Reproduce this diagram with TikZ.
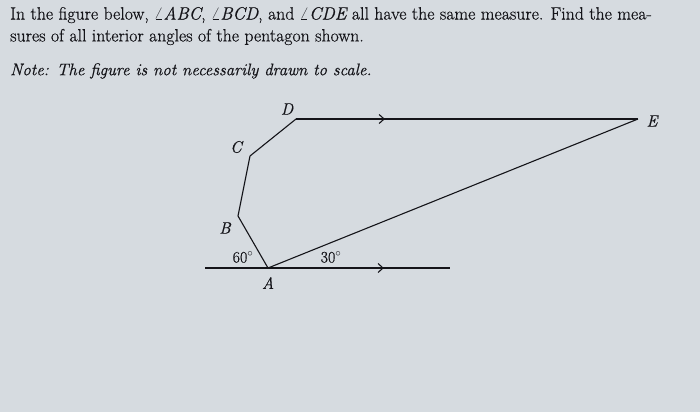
\documentclass[tikz,border=0pt]{standalone}
\usepackage{fontspec}
\newfontfamily\heavy{Latin Modern Roman}[FakeBold=0.6]
\newcommand{\heavyit}{\heavy\itshape}
\usetikzlibrary{decorations.markings,arrows.meta}
\definecolor{paper}{RGB}{214,219,224}
\definecolor{ink}{RGB}{20,20,25}
\begin{document}
\begin{tikzpicture}[x=1pt,y=-1pt,
  seg/.style={draw=ink,line width=1.1pt},
  midarrow/.style={postaction={decorate},decoration={markings,mark=at position #1 with {\arrow{Straight Barb[length=5pt,width=9pt,line width=1.1pt]}}}},
  lbl/.style={text=ink,font=\fontsize{16.5}{18}\selectfont\heavyit,inner sep=0pt},
  para/.style={text=ink,anchor=west,inner sep=0pt,font=\fontsize{17.8}{19}\selectfont\heavy}]
\fill[paper] (0,0) rectangle (700,412);
\useasboundingbox (0,0) rectangle (700,412);
% text
\node[para] (t1) at (10,15) {In the figure below, $\angle${\heavyit ABC}, $\angle${\heavyit BCD}, and $\angle${\heavyit CDE} all have the same measure. Find the mea-};
\node[para] (t2) at (10,37) {sures of all interior angles of the pentagon shown.};
\node[para,font=\fontsize{16.8}{19}\selectfont\heavyit] (t3) at (10,71) {Note: The figure is not necessarily drawn to scale.};
% points
\coordinate (A) at (268,268);
\coordinate (B) at (238,216);
\coordinate (C) at (250,156);
\coordinate (D) at (296,119);
\coordinate (E) at (638,119);
\coordinate (L) at (205,268);
\coordinate (R) at (450,268);
% lines
\draw[seg,line join=round] (A) -- (B) -- (C) -- (D);
\draw[seg,midarrow=0.26] (D) -- (E);
\draw[seg] (E) -- (A);
\draw[seg,midarrow=0.73] (L) -- (R);
% labels
\node[lbl] (lD) at (287,109) {D};
\node[lbl] (lC) at (236,147) {C};
\node[lbl] (lB) at (225,228) {B};
\node[lbl] (lA) at (268,283) {A};
\node[lbl] (lE) at (652,121) {E};
\node[lbl,font=\fontsize{16}{17}\selectfont\heavy] (l60) at (243,257) {60$^\circ$};
\node[lbl,font=\fontsize{16}{17}\selectfont\heavy] (l30) at (331,257) {30$^\circ$};
\end{tikzpicture}
\end{document}
